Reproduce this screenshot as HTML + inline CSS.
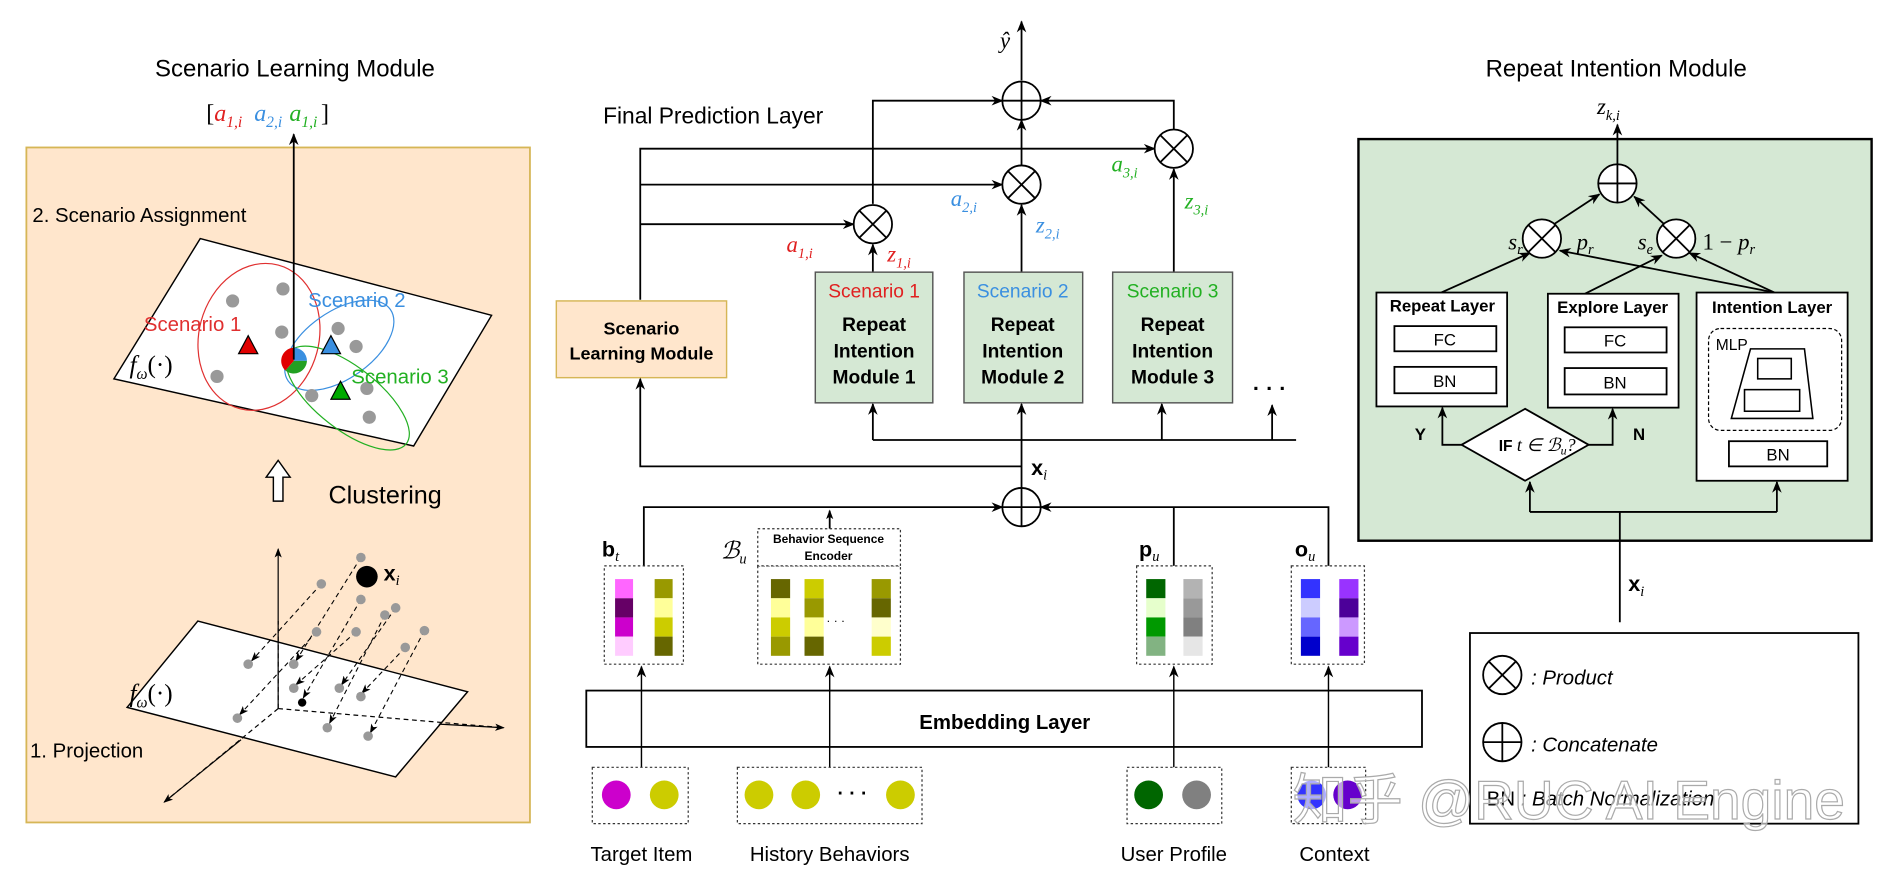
<!DOCTYPE html>
<html><head><meta charset="utf-8"><style>
html,body{margin:0;padding:0;background:#fff;}
svg{display:block;}
text{font-family:"Liberation Sans",sans-serif;}
.m{font-family:"Liberation Serif",serif;font-style:italic;}
.b{font-weight:bold;}
</style></head><body>
<svg width="1880" height="886" viewBox="0 0 1568 739" preserveAspectRatio="none" xmlns="http://www.w3.org/2000/svg">
<defs>
<marker id="a" markerWidth="10" markerHeight="10" refX="9" refY="5" orient="auto" markerUnits="userSpaceOnUse"><path d="M0,1 L10,5 L0,9 L3,5z" fill="#000"/></marker>
<marker id="s" markerWidth="8" markerHeight="8" refX="7" refY="4" orient="auto" markerUnits="userSpaceOnUse"><path d="M0,1 L8,4 L0,7 L2,4z" fill="#000"/></marker>
</defs>
<rect width="1568" height="739" fill="#fff"/>

<!-- LEFT PANEL -->
<text x="246" y="64" font-size="20" text-anchor="middle">Scenario Learning Module</text>
<text x="172" y="101" font-size="20" class="m"><tspan font-style="normal">[</tspan><tspan fill="#e02020">a</tspan><tspan fill="#e02020" font-size="13" dy="5">1,i</tspan><tspan fill="#3a8fe0" dy="-5" dx="10">a</tspan><tspan fill="#3a8fe0" font-size="13" dy="5">2,i</tspan><tspan fill="#22b022" dy="-5" dx="6">a</tspan><tspan fill="#22b022" font-size="13" dy="5">1,i</tspan><tspan font-style="normal" dy="-5" dx="3">]</tspan></text>
<rect x="22" y="123" width="420" height="563" fill="#ffe6cc" stroke="#d6b656" stroke-width="1.5"/>
<text x="27" y="185" font-size="17">2. Scenario Assignment</text>
<polygon points="167,199 410,263 345,372 95,316" fill="#fff" stroke="#000" stroke-width="1.2"/>
<ellipse cx="216" cy="281" rx="50" ry="62" fill="none" stroke="#e03030" transform="rotate(15 216 281)"/>
<ellipse cx="283" cy="288" rx="52" ry="28" fill="none" stroke="#3a8fe0" transform="rotate(-35 283 288)"/>
<ellipse cx="290" cy="332" rx="62" ry="26" fill="none" stroke="#22b022" transform="rotate(38 290 332)"/>
<g fill="#999"><circle cx="236" cy="241" r="5.5"/><circle cx="194" cy="251" r="5.5"/><circle cx="235" cy="277" r="5.5"/><circle cx="282" cy="274" r="5.5"/><circle cx="297" cy="289" r="5.5"/><circle cx="181" cy="314" r="5.5"/><circle cx="260" cy="330" r="5.5"/><circle cx="306" cy="324" r="5.5"/><circle cx="308" cy="348" r="5.5"/></g>
<polygon points="207,280 199,295 215,295" fill="#e00000" stroke="#000"/>
<polygon points="276,280 268,295 284,295" fill="#3a8fe0" stroke="#000"/>
<polygon points="284,318 276,333 292,333" fill="#00aa00" stroke="#000"/>
<path d="M245,301 L245,290 A11,11 0 0 1 256,301z" fill="#3a8fe0"/>
<path d="M245,301 L256,301 A11,11 0 0 1 238,309z" fill="#22a022"/>
<path d="M245,301 L238,309 A11,11 0 0 1 245,290z" fill="#e00000"/>
<text x="120" y="276" font-size="17" fill="#e03030">Scenario 1</text>
<text x="257" y="256" font-size="17" fill="#3a8fe0">Scenario 2</text>
<text x="293" y="320" font-size="17" fill="#22b022">Scenario 3</text>
<text x="108" y="311" font-size="21" class="m">f<tspan font-size="13" dy="5">ω</tspan><tspan dy="-5" font-style="normal">(·)</tspan></text>
<line x1="245" y1="300" x2="245" y2="112" stroke="#000" stroke-width="1.5" marker-end="url(#a)"/>
<path d="M232,384 L242,398 L236,398 L236,418 L228,418 L228,398 L222,398z" fill="#fff" stroke="#000" stroke-width="1.2"/>
<text x="274" y="420" font-size="21">Clustering</text>

<polygon points="165,518 390,577 330,648 106,590" fill="#fff" stroke="#000" stroke-width="1.2"/>
<line x1="232" y1="591" x2="232" y2="458" stroke="#000" marker-end="url(#s)"/>
<line x1="232" y1="591" x2="420" y2="607" stroke="#000" stroke-dasharray="4,3"/>
<line x1="366" y1="604" x2="420" y2="607" stroke="#000" marker-end="url(#s)"/>
<line x1="232" y1="591" x2="137" y2="669" stroke="#000" stroke-dasharray="4,3"/>
<line x1="201" y1="617" x2="137" y2="669" stroke="#000" marker-end="url(#s)"/>
<line x1="232" y1="591" x2="232" y2="518" stroke="#000" stroke-dasharray="4,3"/>
<g stroke="#000" stroke-dasharray="4,3" stroke-width="0.9">
<line x1="301" y1="465" x2="247" y2="551" marker-end="url(#s)"/>
<line x1="268" y1="487" x2="210" y2="551" marker-end="url(#s)"/>
<line x1="301" y1="500" x2="253" y2="582" marker-end="url(#s)"/>
<line x1="330" y1="507" x2="285" y2="571" marker-end="url(#s)"/>
<line x1="321" y1="513" x2="275" y2="603" marker-end="url(#s)"/>
<line x1="264" y1="527" x2="200" y2="596" marker-end="url(#s)"/>
<line x1="297" y1="527" x2="247" y2="571" marker-end="url(#s)"/>
<line x1="354" y1="526" x2="309" y2="611" marker-end="url(#s)"/>
<line x1="338" y1="540" x2="302" y2="578" marker-end="url(#s)"/>
</g>
<g fill="#999"><circle cx="301" cy="465" r="4"/><circle cx="268" cy="487" r="4"/><circle cx="301" cy="500" r="4"/><circle cx="330" cy="507" r="4"/><circle cx="321" cy="513" r="4"/><circle cx="264" cy="527" r="4"/><circle cx="297" cy="527" r="4"/><circle cx="354" cy="526" r="4"/><circle cx="338" cy="540" r="4"/>
<circle cx="245" cy="554" r="4"/><circle cx="207" cy="554" r="4"/><circle cx="283" cy="574" r="4"/><circle cx="273" cy="607" r="4"/><circle cx="198" cy="599" r="4"/><circle cx="245" cy="574" r="4"/><circle cx="307" cy="614" r="4"/><circle cx="301" cy="581" r="4"/></g>
<circle cx="252" cy="586" r="3.5" fill="#000"/>
<circle cx="306" cy="481" r="9" fill="#000"/>
<text x="320" y="484" font-size="18" font-family="Liberation Serif" font-weight="bold">x<tspan font-size="12" class="m" font-weight="normal" dy="4">i</tspan></text>
<text x="108" y="585" font-size="21" class="m">f<tspan font-size="13" dy="5">ω</tspan><tspan dy="-5" font-style="normal">(·)</tspan></text>
<text x="25" y="632" font-size="17">1. Projection</text>

<!-- MIDDLE -->
<text x="503" y="103" font-size="19">Final Prediction Layer</text>
<g stroke="#000" stroke-width="1.5" fill="none">
<line x1="852" y1="67" x2="852" y2="18" marker-end="url(#a)"/>
<path d="M728,170 L728,84 L836,84" marker-end="url(#a)"/>
<line x1="852" y1="138" x2="852" y2="100" marker-end="url(#a)"/>
<path d="M979,108 L979,84 L868,84" marker-end="url(#a)"/>
<path d="M534,250 L534,124 L963,124" marker-end="url(#a)"/>
<line x1="534" y1="154" x2="836" y2="154" marker-end="url(#a)"/>
<line x1="534" y1="187" x2="712" y2="187" marker-end="url(#a)"/>
<line x1="728" y1="227" x2="728" y2="204" marker-end="url(#a)"/>
<line x1="852" y1="227" x2="852" y2="171" marker-end="url(#a)"/>
<line x1="979" y1="227" x2="979" y2="141" marker-end="url(#a)"/>
</g>
<g stroke="#000" stroke-width="1.5" fill="#fff">
<circle cx="852" cy="84" r="16"/><line x1="836" y1="84" x2="868" y2="84"/><line x1="852" y1="68" x2="852" y2="100"/>
<circle cx="852" cy="154" r="16"/><line x1="840.7" y1="142.7" x2="863.3" y2="165.3"/><line x1="863.3" y1="142.7" x2="840.7" y2="165.3"/>
<circle cx="728" cy="187" r="16"/><line x1="716.7" y1="175.7" x2="739.3" y2="198.3"/><line x1="739.3" y1="175.7" x2="716.7" y2="198.3"/>
<circle cx="979" cy="124" r="16"/><line x1="967.7" y1="112.7" x2="990.3" y2="135.3"/><line x1="990.3" y1="112.7" x2="967.7" y2="135.3"/>
</g>
<text x="834" y="40" font-size="19" class="m">ŷ</text>
<text x="656" y="210" font-size="19" class="m" fill="#e02020">a<tspan font-size="12" dy="5">1,i</tspan></text>
<text x="740" y="218" font-size="19" class="m" fill="#e02020">z<tspan font-size="12" dy="5">1,i</tspan></text>
<text x="793" y="172" font-size="19" class="m" fill="#3a8fe0">a<tspan font-size="12" dy="5">2,i</tspan></text>
<text x="864" y="194" font-size="19" class="m" fill="#3a8fe0">z<tspan font-size="12" dy="5">2,i</tspan></text>
<text x="927" y="143" font-size="19" class="m" fill="#22b022">a<tspan font-size="12" dy="5">3,i</tspan></text>
<text x="988" y="174" font-size="19" class="m" fill="#22b022">z<tspan font-size="12" dy="5">3,i</tspan></text>

<rect x="464" y="251" width="142" height="64" fill="#ffe6cc" stroke="#d6b656" stroke-width="1.2"/>
<text x="535" y="279" font-size="15" class="b" text-anchor="middle">Scenario</text>
<text x="535" y="300" font-size="15" class="b" text-anchor="middle">Learning Module</text>

<g stroke="#555" stroke-width="1.2" fill="#d5e8d4">
<rect x="680" y="227" width="98" height="109"/><rect x="804" y="227" width="99" height="109"/><rect x="928" y="227" width="100" height="109"/>
</g>
<text x="729" y="248" font-size="16" text-anchor="middle" fill="#e02020">Scenario 1</text>
<text x="853" y="248" font-size="16" text-anchor="middle" fill="#3a8fe0">Scenario 2</text>
<text x="978" y="248" font-size="16" text-anchor="middle" fill="#22b022">Scenario 3</text>
<g font-size="16" class="b" text-anchor="middle">
<text x="729" y="276">Repeat</text><text x="729" y="298">Intention</text><text x="729" y="320">Module 1</text>
<text x="853" y="276">Repeat</text><text x="853" y="298">Intention</text><text x="853" y="320">Module 2</text>
<text x="978" y="276">Repeat</text><text x="978" y="298">Intention</text><text x="978" y="320">Module 3</text>
</g>
<text x="1045" y="330" font-size="18" class="b">· · ·</text>
<g stroke="#000" stroke-width="1.5" fill="none">
<line x1="728" y1="367" x2="1081" y2="367"/>
<line x1="728" y1="367" x2="728" y2="337" marker-end="url(#a)"/>
<line x1="852" y1="407" x2="852" y2="337" marker-end="url(#a)"/>
<line x1="969" y1="367" x2="969" y2="337" marker-end="url(#a)"/>
<line x1="1061" y1="367" x2="1061" y2="338" marker-end="url(#a)"/>
<path d="M852,389 L534,389 L534,316" marker-end="url(#a)"/>
<path d="M537,472 L537,423 L836,423" marker-end="url(#a)"/>
<line x1="692" y1="441" x2="692" y2="426" marker-end="url(#s)"/>
<path d="M1108,472 L1108,423 L868,423" marker-end="url(#a)"/>
<line x1="979" y1="423" x2="979" y2="472"/>
</g>
<g stroke="#000" stroke-width="1.5" fill="#fff"><circle cx="852" cy="423" r="16"/><line x1="836" y1="423" x2="868" y2="423"/><line x1="852" y1="407" x2="852" y2="439"/></g>
<text x="860" y="396" font-size="18" font-family="Liberation Serif" font-weight="bold">x<tspan font-size="12" class="m" font-weight="normal" dy="4">i</tspan></text>

<g stroke="#333" stroke-dasharray="2,2" fill="#fff" stroke-width="1">
<rect x="504" y="472" width="66" height="82"/><rect x="632" y="472" width="119" height="82"/><rect x="632" y="441" width="119" height="31"/>
<rect x="948" y="472" width="63" height="82"/><rect x="1077" y="472" width="61" height="82"/>
</g>
<text x="691" y="453" font-size="10" class="b" text-anchor="middle">Behavior Sequence</text>
<text x="691" y="467" font-size="10" class="b" text-anchor="middle">Encoder</text>
<g>
<rect x="513" y="483" width="15" height="16" fill="#ff66ff"/><rect x="513" y="499" width="15" height="16" fill="#660066"/><rect x="513" y="515" width="15" height="16" fill="#cc00cc"/><rect x="513" y="531" width="15" height="16" fill="#ffccff"/>
<rect x="546" y="483" width="15" height="16" fill="#999900"/><rect x="546" y="499" width="15" height="16" fill="#ffff99"/><rect x="546" y="515" width="15" height="16" fill="#cccc00"/><rect x="546" y="531" width="15" height="16" fill="#666600"/>
<rect x="643" y="483" width="16" height="16" fill="#666600"/><rect x="643" y="499" width="16" height="16" fill="#ffff99"/><rect x="643" y="515" width="16" height="16" fill="#cccc00"/><rect x="643" y="531" width="16" height="16" fill="#999900"/>
<rect x="671" y="483" width="16" height="16" fill="#cccc00"/><rect x="671" y="499" width="16" height="16" fill="#999900"/><rect x="671" y="515" width="16" height="16" fill="#ffff99"/><rect x="671" y="531" width="16" height="16" fill="#666600"/>
<rect x="727" y="483" width="16" height="16" fill="#999900"/><rect x="727" y="499" width="16" height="16" fill="#666600"/><rect x="727" y="515" width="16" height="16" fill="#ffffcc"/><rect x="727" y="531" width="16" height="16" fill="#cccc00"/>
<rect x="956" y="483" width="16" height="16" fill="#006600"/><rect x="956" y="499" width="16" height="16" fill="#e6ffcc"/><rect x="956" y="515" width="16" height="16" fill="#009900"/><rect x="956" y="531" width="16" height="16" fill="#82b382"/>
<rect x="987" y="483" width="16" height="16" fill="#b3b3b3"/><rect x="987" y="499" width="16" height="16" fill="#999999"/><rect x="987" y="515" width="16" height="16" fill="#808080"/><rect x="987" y="531" width="16" height="16" fill="#e6e6e6"/>
<rect x="1085" y="483" width="16" height="16" fill="#3333ff"/><rect x="1085" y="499" width="16" height="16" fill="#ccccff"/><rect x="1085" y="515" width="16" height="16" fill="#6666ff"/><rect x="1085" y="531" width="16" height="16" fill="#0000cc"/>
<rect x="1117" y="483" width="16" height="16" fill="#9933ff"/><rect x="1117" y="499" width="16" height="16" fill="#4c0099"/><rect x="1117" y="515" width="16" height="16" fill="#cc99ff"/><rect x="1117" y="531" width="16" height="16" fill="#6600cc"/>
</g>
<text x="697" y="521" font-size="10" text-anchor="middle">· · ·</text>
<text x="502" y="464" font-size="18" font-family="Liberation Serif" font-weight="bold">b<tspan font-size="12" class="m" font-weight="normal" dy="4">t</tspan></text>
<text x="601" y="466" font-size="20" class="m">ℬ<tspan font-size="12" dy="4">u</tspan></text>
<text x="950" y="464" font-size="18" font-family="Liberation Serif" font-weight="bold">p<tspan font-size="12" class="m" font-weight="normal" dy="4">u</tspan></text>
<text x="1080" y="464" font-size="18" font-family="Liberation Serif" font-weight="bold">o<tspan font-size="12" class="m" font-weight="normal" dy="4">u</tspan></text>

<rect x="489" y="576" width="697" height="47" fill="#fff" stroke="#000" stroke-width="1.5"/>
<text x="838" y="608" font-size="17" class="b" text-anchor="middle">Embedding Layer</text>
<g stroke="#000" stroke-width="1.2">
<line x1="535" y1="640" x2="535" y2="556" marker-end="url(#a)"/>
<line x1="692" y1="640" x2="692" y2="556" marker-end="url(#a)"/>
<line x1="979" y1="640" x2="979" y2="556" marker-end="url(#a)"/>
<line x1="1108" y1="640" x2="1108" y2="556" marker-end="url(#a)"/>
</g>
<g stroke="#333" stroke-dasharray="2,2" fill="#fff">
<rect x="494" y="640" width="80" height="47"/><rect x="615" y="640" width="154" height="47"/><rect x="940" y="640" width="79" height="47"/><rect x="1077" y="640" width="62" height="47"/>
</g>
<circle cx="514" cy="663" r="12" fill="#cc00cc"/><circle cx="554" cy="663" r="12" fill="#cccc00"/>
<circle cx="633" cy="663" r="12" fill="#cccc00"/><circle cx="672" cy="663" r="12" fill="#cccc00"/><circle cx="751" cy="663" r="12" fill="#cccc00"/>
<text x="711" y="667" font-size="16" class="b" text-anchor="middle">· · ·</text>
<circle cx="958" cy="663" r="12" fill="#006600"/><circle cx="998" cy="663" r="12" fill="#808080"/>
<circle cx="1094" cy="663" r="12" fill="#3333ff"/><circle cx="1124" cy="663" r="12" fill="#6600cc"/>
<g font-size="17" text-anchor="middle">
<text x="535" y="718">Target Item</text><text x="692" y="718">History Behaviors</text><text x="979" y="718">User Profile</text><text x="1113" y="718">Context</text>
</g>

<!-- RIGHT PANEL -->
<text x="1348" y="64" font-size="20" text-anchor="middle">Repeat Intention Module</text>
<text x="1332" y="95" font-size="19" class="m">z<tspan font-size="12" dy="5">k,i</tspan></text>
<rect x="1133" y="116" width="428" height="335" fill="#d5e8d4" stroke="#000" stroke-width="2"/>
<line x1="1349" y1="137" x2="1349" y2="104" stroke="#000" stroke-width="1.5" marker-end="url(#a)"/>
<g stroke="#000" stroke-width="1.5" fill="none">
<line x1="1296" y1="187" x2="1334" y2="162" marker-end="url(#a)"/>
<line x1="1388" y1="187" x2="1363" y2="164" marker-end="url(#a)"/>
<line x1="1202" y1="244" x2="1276" y2="211" marker-end="url(#a)"/>
<line x1="1322" y1="245" x2="1386" y2="213" marker-end="url(#a)"/>
<line x1="1480" y1="244" x2="1301" y2="209" marker-end="url(#a)"/>
<line x1="1480" y1="244" x2="1409" y2="211" marker-end="url(#a)"/>
</g>
<g stroke="#000" stroke-width="1.5" fill="#fff">
<circle cx="1349" cy="153" r="16"/><line x1="1333" y1="153" x2="1365" y2="153"/><line x1="1349" y1="137" x2="1349" y2="169"/>
<circle cx="1286" cy="199" r="16"/><line x1="1274.7" y1="187.7" x2="1297.3" y2="210.3"/><line x1="1297.3" y1="187.7" x2="1274.7" y2="210.3"/>
<circle cx="1398" cy="199" r="16"/><line x1="1386.7" y1="187.7" x2="1409.3" y2="210.3"/><line x1="1409.3" y1="187.7" x2="1386.7" y2="210.3"/>
</g>
<text x="1258" y="208" font-size="19" class="m">s<tspan font-size="12" dy="4">r</tspan></text>
<text x="1315" y="208" font-size="19" class="m">p<tspan font-size="12" dy="4">r</tspan></text>
<text x="1366" y="208" font-size="19" class="m">s<tspan font-size="12" dy="4">e</tspan></text>
<text x="1420" y="208" font-size="19" class="m"><tspan font-style="normal">1 − </tspan>p<tspan font-size="12" dy="4">r</tspan></text>

<g stroke="#000" stroke-width="1.5" fill="#fff">
<rect x="1148" y="244" width="109" height="95"/><rect x="1291" y="245" width="109" height="95"/><rect x="1415" y="244" width="126" height="157"/>
<rect x="1163" y="272" width="85" height="21"/><rect x="1163" y="306" width="85" height="22"/>
<rect x="1305" y="273" width="85" height="21"/><rect x="1305" y="307" width="85" height="22"/>
<rect x="1442" y="368" width="82" height="21"/>
</g>
<g font-size="14" class="b" text-anchor="middle"><text x="1203" y="260">Repeat Layer</text><text x="1345" y="261">Explore Layer</text><text x="1478" y="261">Intention Layer</text></g>
<g font-size="14" text-anchor="middle"><text x="1205" y="288">FC</text><text x="1205" y="323">BN</text><text x="1347" y="289">FC</text><text x="1347" y="324">BN</text><text x="1483" y="384">BN</text></g>
<rect x="1425" y="274" width="111" height="85" rx="10" fill="#fff" stroke="#000" stroke-dasharray="3,2"/>
<polygon points="1460,291 1505,291 1512,349 1444,349" fill="#fff" stroke="#000" stroke-width="1.3"/>
<rect x="1466" y="299" width="28" height="17" fill="#fff" stroke="#000" stroke-width="1.3"/>
<rect x="1455" y="325" width="46" height="18" fill="#fff" stroke="#000" stroke-width="1.3"/>
<text x="1431" y="292" font-size="13">MLP</text>
<polygon points="1272,341 1325,371 1272,401 1219,371" fill="#fff" stroke="#000" stroke-width="1.5"/>
<text x="1250" y="376" font-size="13" class="b">IF <tspan class="m" font-weight="normal" font-size="15">t ∈ ℬ<tspan font-size="10" dy="3">u</tspan><tspan dy="-3">?</tspan></tspan></text>
<text x="1180" y="367" font-size="14" class="b">Y</text>
<text x="1362" y="367" font-size="14" class="b">N</text>
<g stroke="#000" stroke-width="1.5" fill="none">
<path d="M1219,371 L1203,371 L1203,340" marker-end="url(#a)"/>
<path d="M1325,371 L1345,371 L1345,341" marker-end="url(#a)"/>
<line x1="1351" y1="519" x2="1351" y2="427"/>
<path d="M1276,427 L1482,427"/>
<line x1="1276" y1="427" x2="1276" y2="402" marker-end="url(#a)"/>
<line x1="1482" y1="427" x2="1482" y2="402" marker-end="url(#a)"/>
</g>
<text x="1358" y="493" font-size="18" font-family="Liberation Serif" font-weight="bold">x<tspan font-size="12" class="m" font-weight="normal" dy="4">i</tspan></text>

<rect x="1226" y="528" width="324" height="159" fill="#fff" stroke="#000" stroke-width="1.5"/>
<g stroke="#000" stroke-width="1.5" fill="#fff">
<circle cx="1253" cy="563" r="16"/><line x1="1241.7" y1="551.7" x2="1264.3" y2="574.3"/><line x1="1264.3" y1="551.7" x2="1241.7" y2="574.3"/>
<circle cx="1253" cy="619" r="16"/><line x1="1237" y1="619" x2="1269" y2="619"/><line x1="1253" y1="603" x2="1253" y2="635"/>
</g>
<text x="1277" y="571" font-size="17" font-style="italic">: Product</text>
<text x="1277" y="627" font-size="17" font-style="italic">: Concatenate</text>
<text x="1240" y="672" font-size="17" font-style="italic"><tspan font-style="normal">BN</tspan> : Batch Normalization</text>
<text x="1078" y="683" font-size="46" fill="#fff" fill-opacity="0.6" stroke="#aaa" stroke-width="1" font-family="'Liberation Sans','Noto Sans CJK SC',sans-serif">知乎 @RUC AI Engine</text>
</svg>
</body></html>
